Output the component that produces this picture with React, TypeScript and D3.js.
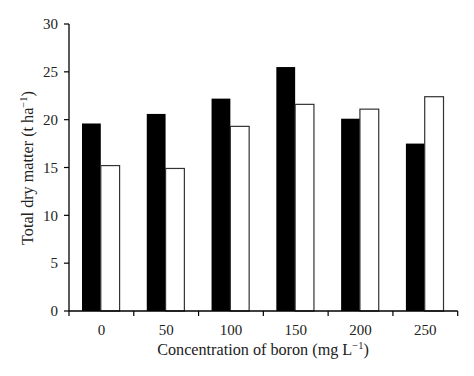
import React from "react";
import * as d3 from "d3";

const categories = ["0", "50", "100", "150", "200", "250"];
const seriesBlack = [19.6, 20.6, 22.2, 25.5, 20.1, 17.5];
const seriesWhite = [15.2, 14.9, 19.3, 21.6, 21.1, 22.4];
const yTicks = [0, 5, 10, 15, 20, 25, 30];

export default function App() {
  const W = 474, H = 376;
  const left = 69, right = 457.7, top = 24, bottom = 311;
  const x = d3.scaleBand<string>().domain(categories).range([left, right]).paddingInner(0).paddingOuter(0);
  const y = d3.scaleLinear().domain([0, 30]).range([bottom, top]);
  const bw = x.bandwidth();
  const barW = 18.8;
  const offset = (bw - 2 * barW) / 2 - 0.6;
  const font = "'Liberation Serif', 'Times New Roman', serif";
  const tickBoundaries = categories.map((_, i) => left + bw * (i + 1));

  return (
    <svg width={W} height={H} style={{ position: "absolute", left: 0, top: 0 }}>
      <rect width={W} height={H} fill="#fff" />
      {categories.map((c, i) => {
        const x0 = (x(c) as number) + offset;
        return (
          <g key={c}>
            <rect x={x0} y={y(seriesBlack[i])} width={barW} height={bottom - y(seriesBlack[i])} fill="#000" />
            <rect x={x0 + barW} y={y(seriesWhite[i])} width={barW} height={bottom - y(seriesWhite[i])} fill="#fff" stroke="#333" strokeWidth={1.2} />
          </g>
        );
      })}
      {/* y axis */}
      <line x1={left} x2={left} y1={top} y2={bottom} stroke="#000" strokeWidth={1.3} />
      {yTicks.map((t) => (
        <g key={t}>
          <line x1={left - 5} x2={left} y1={y(t)} y2={y(t)} stroke="#000" strokeWidth={1.2} />
          <text x={left - 11} y={y(t)} dy="0.35em" textAnchor="end" fontFamily={font} fontSize={15} fill="#222">{t}</text>
        </g>
      ))}
      {/* x axis */}
      <line x1={left} x2={right} y1={bottom} y2={bottom} stroke="#000" strokeWidth={1.3} />
      {tickBoundaries.map((tx, i) => (
        <line key={i} x1={tx} x2={tx} y1={bottom} y2={bottom + 5} stroke="#000" strokeWidth={1.2} />
      ))}
      <line x1={left} x2={left} y1={bottom} y2={bottom + 5} stroke="#000" strokeWidth={1.2} />
      {categories.map((c) => (
        <text key={c} x={(x(c) as number) + bw / 2} y={335} textAnchor="middle" fontFamily={font} fontSize={15} fill="#222">{c}</text>
      ))}
      <text x={263} y={355} textAnchor="middle" fontFamily={font} fontSize={16.2} fill="#222">
        Concentration of boron (mg L<tspan dy={-6} fontSize={10.5}>−1</tspan><tspan dy={6}>)</tspan>
      </text>
      <text transform={`translate(33,168) rotate(-90)`} textAnchor="middle" fontFamily={font} fontSize={16.2} fill="#222">
        Total dry matter (t ha<tspan dy={-6} fontSize={10.5}>−1</tspan><tspan dy={6}>)</tspan>
      </text>
    </svg>
  );
}
